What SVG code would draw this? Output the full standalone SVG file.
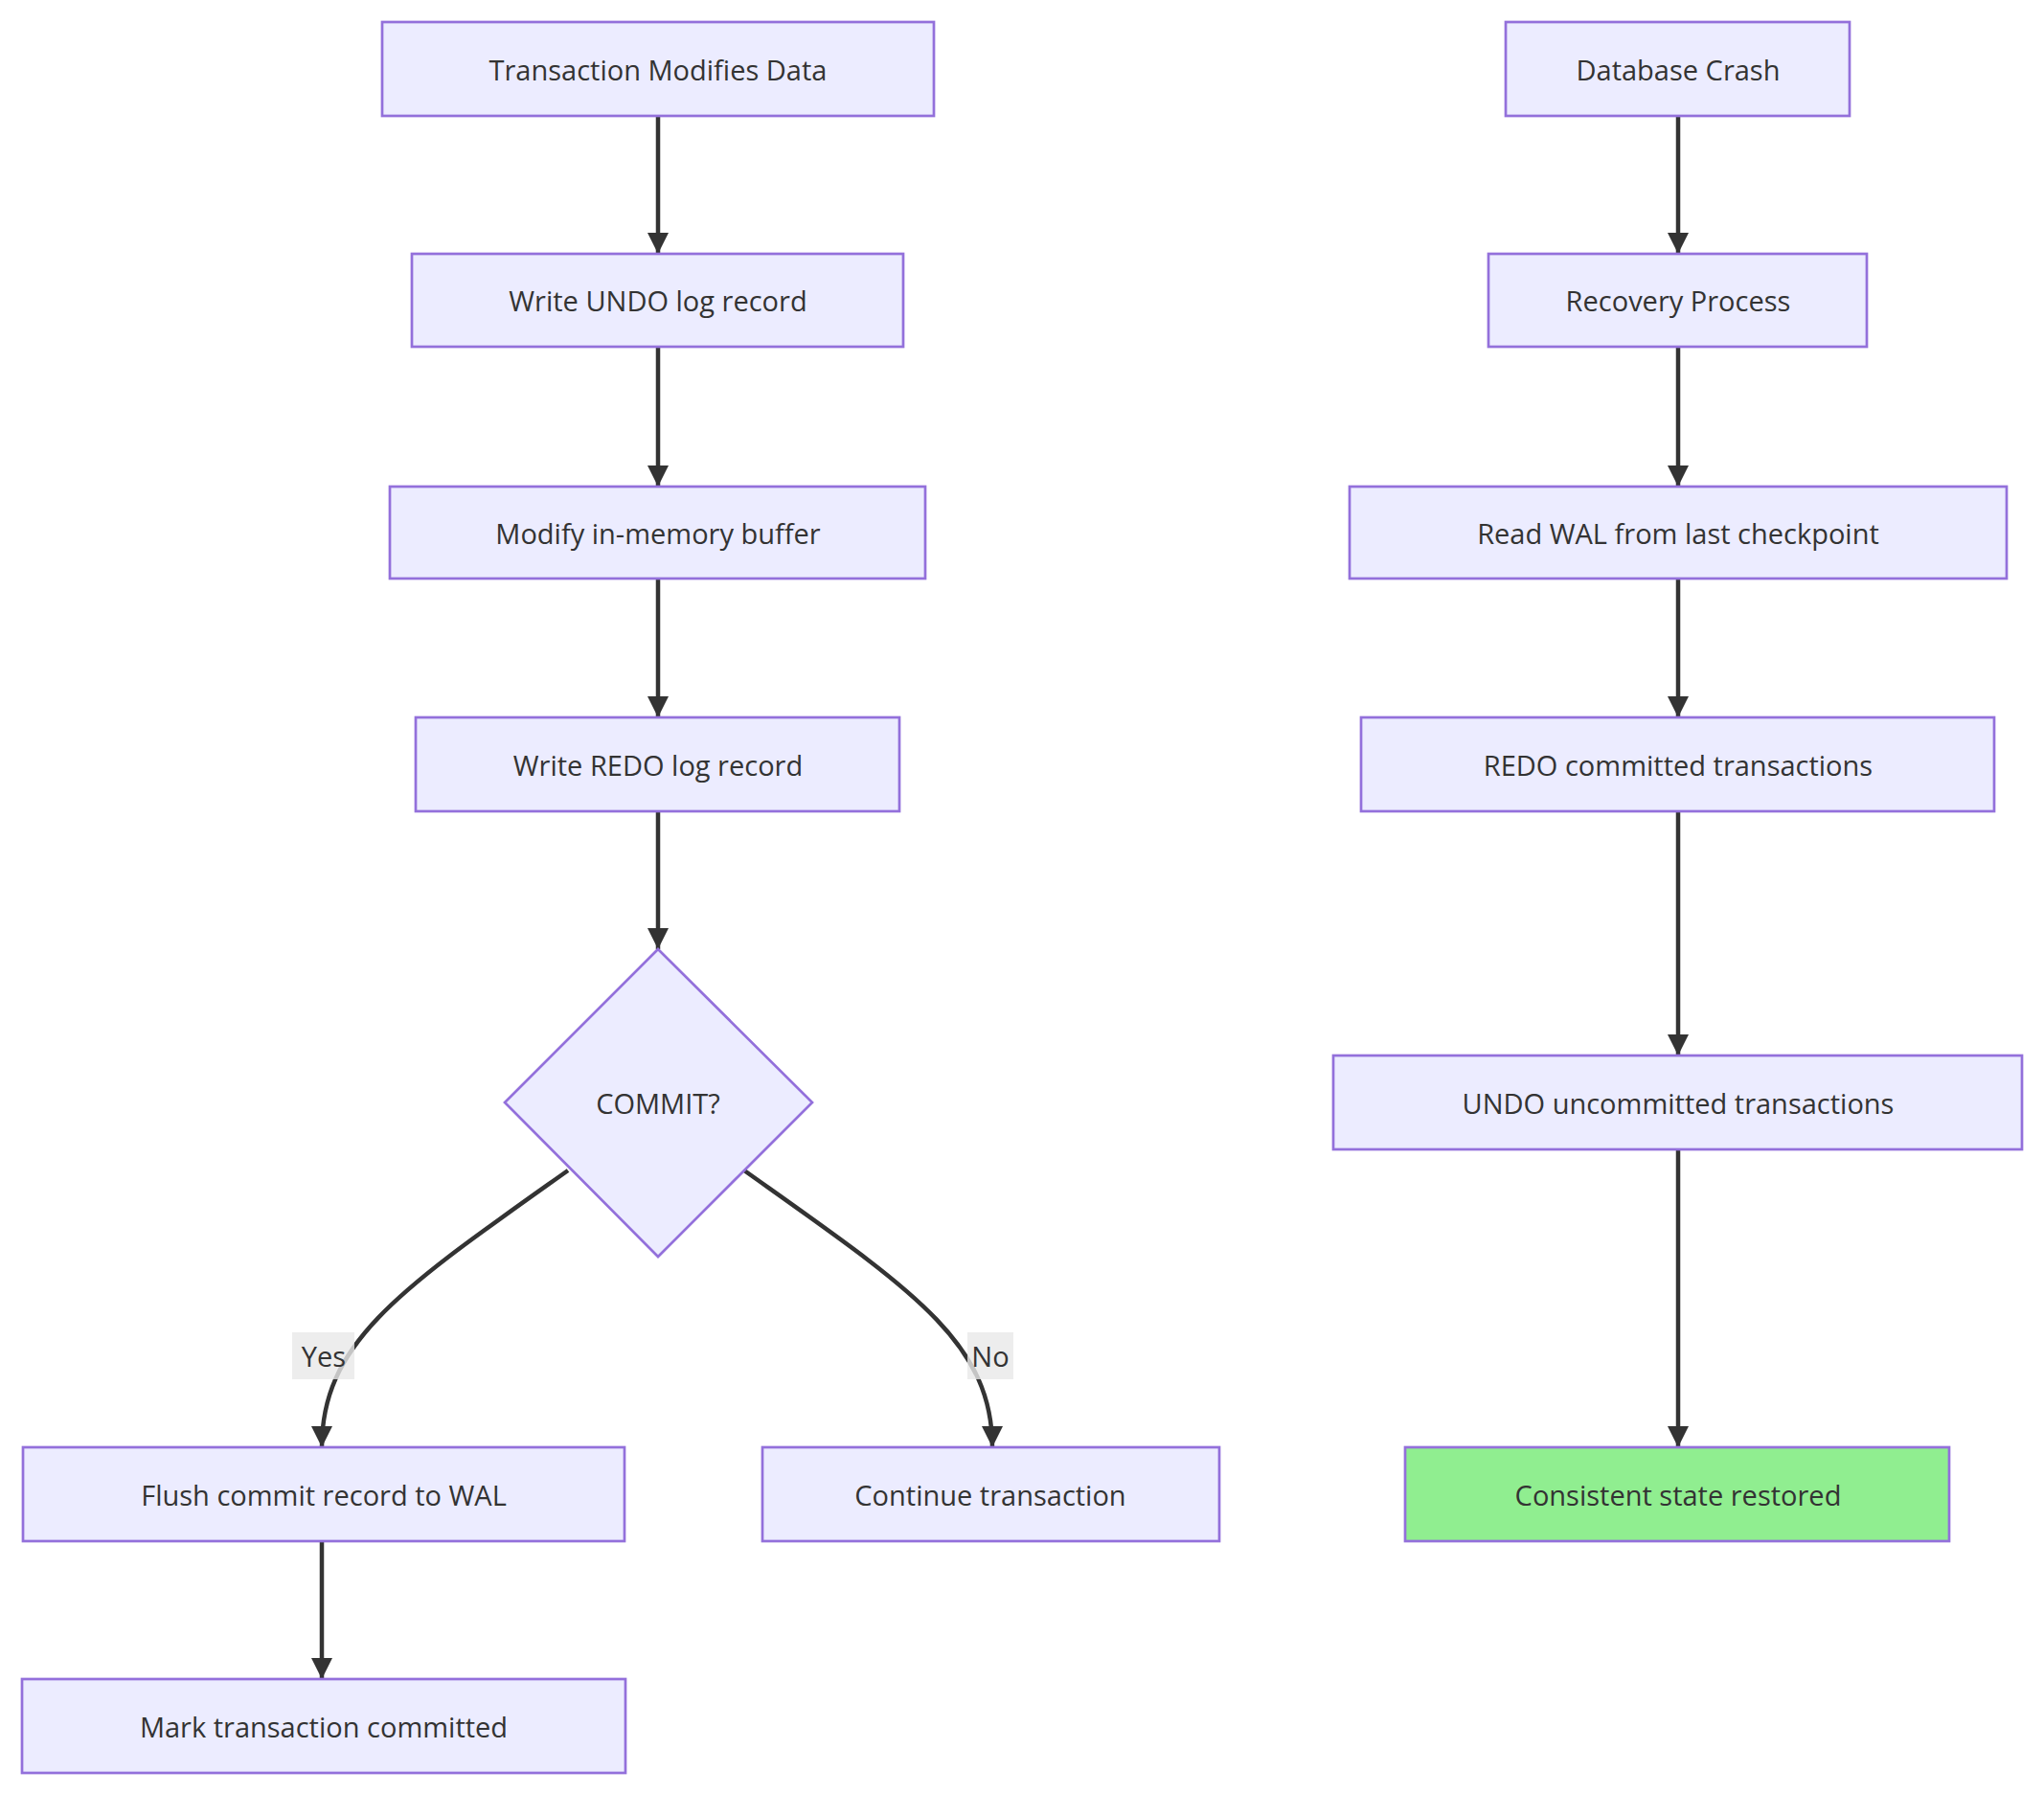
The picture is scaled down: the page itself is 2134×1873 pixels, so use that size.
<svg xmlns="http://www.w3.org/2000/svg" width="2134" height="1873" viewBox="0 0 2134 1873">
<style>
.n{fill:#ECECFF;stroke:#9370DB;stroke-width:2.7}
.g{fill:#90EE90;stroke:#9370DB;stroke-width:2.7}
.t{font-family:"Open Sans","DejaVu Sans",sans-serif;font-size:29px;fill:#333;text-anchor:middle;dominant-baseline:central}
.e{fill:none;stroke:#333;stroke-width:4.5}
.lb{fill:#e8e8e8;opacity:0.8}
</style>
<defs>
<marker id="ah" viewBox="0 0 10 10" refX="10" refY="5" markerWidth="5" markerHeight="5" markerUnits="strokeWidth" orient="auto">
<path d="M0,0 L10,5 L0,10 z" fill="#333"/>
</marker>
</defs>
<rect width="2134" height="1873" fill="#fff"/>
<g id="edges">
<path class="e" marker-end="url(#ah)" d="M687,121 V265"/>
<path class="e" marker-end="url(#ah)" d="M687,362 V508"/>
<path class="e" marker-end="url(#ah)" d="M687,604 V749"/>
<path class="e" marker-end="url(#ah)" d="M687,847 V991"/>
<path class="e" marker-end="url(#ah)" d="M593,1222 C420,1345 336,1400 336,1511"/>
<path class="e" marker-end="url(#ah)" d="M777,1222 C950,1345 1036,1400 1036,1511"/>
<path class="e" marker-end="url(#ah)" d="M336,1609 V1753"/>
<path class="e" marker-end="url(#ah)" d="M1752,121 V265"/>
<path class="e" marker-end="url(#ah)" d="M1752,362 V508"/>
<path class="e" marker-end="url(#ah)" d="M1752,604 V749"/>
<path class="e" marker-end="url(#ah)" d="M1752,847 V1102"/>
<path class="e" marker-end="url(#ah)" d="M1752,1200 V1511"/>
<rect class="lb" x="305" y="1391" width="65" height="49"/>
<text class="t" x="338" y="1415">Yes</text>
<rect class="lb" x="1010" y="1391" width="48" height="49"/>
<text class="t" x="1034" y="1415">No</text>
</g>
<g id="A"><rect class="n" x="399" y="23" width="576" height="98"/><text class="t" x="687" y="72">Transaction Modifies Data</text></g>
<g id="B"><rect class="n" x="430" y="265" width="513" height="97"/><text class="t" x="687" y="313">Write UNDO log record</text></g>
<g id="C"><rect class="n" x="407" y="508" width="559" height="96"/><text class="t" x="687" y="556">Modify in-memory buffer</text></g>
<g id="D"><rect class="n" x="434" y="749" width="505" height="98"/><text class="t" x="687" y="798">Write REDO log record</text></g>
<g id="Q"><polygon class="n" points="687,991 848,1151 687,1312 527,1151"/><text class="t" x="687" y="1151">COMMIT?</text></g>
<g id="E"><rect class="n" x="24" y="1511" width="628" height="98"/><text class="t" x="338" y="1560">Flush commit record to WAL</text></g>
<g id="F"><rect class="n" x="796" y="1511" width="477" height="98"/><text class="t" x="1034" y="1560">Continue transaction</text></g>
<g id="G"><rect class="n" x="23" y="1753" width="630" height="98"/><text class="t" x="338" y="1802">Mark transaction committed</text></g>
<g id="R1"><rect class="n" x="1572" y="23" width="359" height="98"/><text class="t" x="1752" y="72">Database Crash</text></g>
<g id="R2"><rect class="n" x="1554" y="265" width="395" height="97"/><text class="t" x="1752" y="313">Recovery Process</text></g>
<g id="R3"><rect class="n" x="1409" y="508" width="686" height="96"/><text class="t" x="1752" y="556">Read WAL from last checkpoint</text></g>
<g id="R4"><rect class="n" x="1421" y="749" width="661" height="98"/><text class="t" x="1752" y="798">REDO committed transactions</text></g>
<g id="R5"><rect class="n" x="1392" y="1102" width="719" height="98"/><text class="t" x="1752" y="1151">UNDO uncommitted transactions</text></g>
<g id="R6"><rect class="g" x="1467" y="1511" width="568" height="98"/><text class="t" x="1752" y="1560">Consistent state restored</text></g>
</svg>
